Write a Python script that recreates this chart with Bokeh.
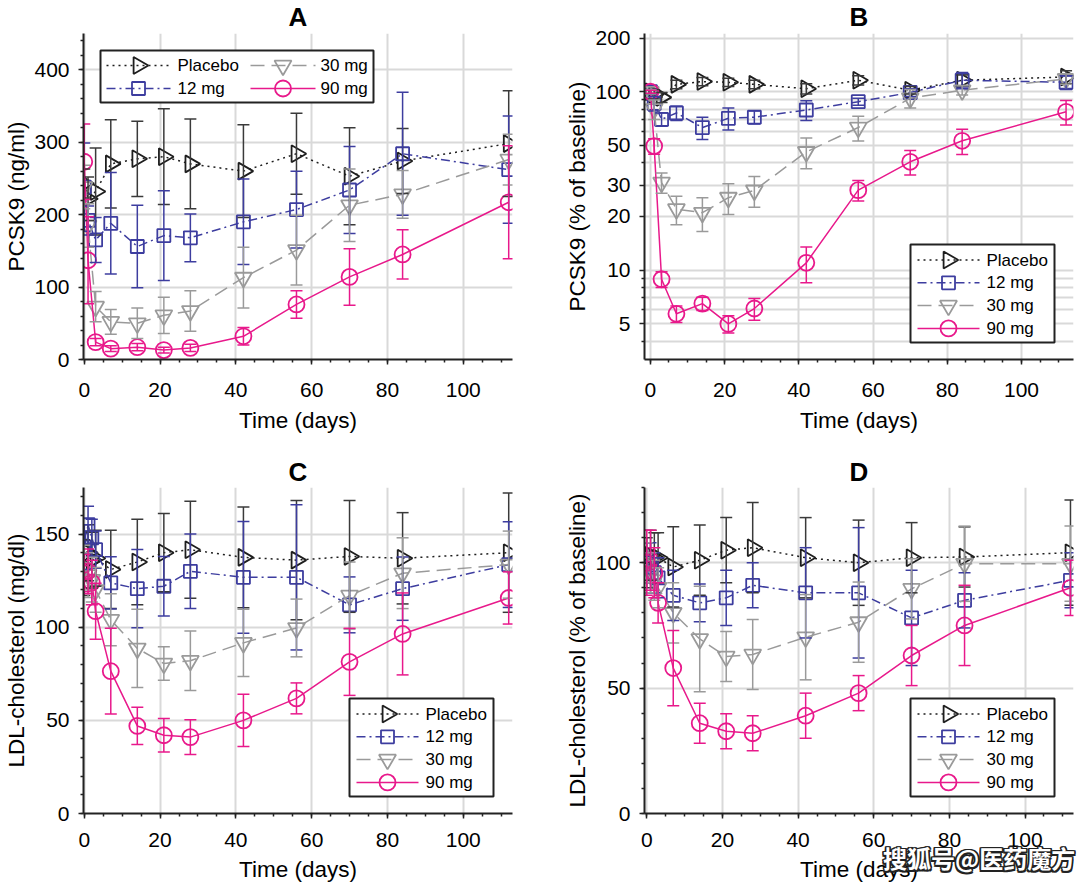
import math
from bokeh.plotting import figure
from bokeh.layouts import gridplot, column
from bokeh.models import (ColumnDataSource, Whisker, TeeHead, FixedTicker, Range1d, Div)
from bokeh.core.properties import value
from bokeh.embed import file_html
from bokeh.resources import INLINE

# ---------------------------------------------------------------- data
series_names = ["Placebo", "12 mg", "30 mg", "90 mg"]

pcsk9_days = [0, 1, 3, 7, 14, 21, 28, 42, 56, 70, 84, 112]
ldl_days = [0, 1, 2, 3, 7, 14, 21, 28, 42, 56, 70, 84, 112]

# A: PCSK9 (ng/ml), mean and SD
a_placebo = [243, 222, 232, 270, 277, 280, 270, 260, 284, 253, 274, 298]
a_placebo_sd = [20, 30, 60, 61, 52, 66, 62, 64, 56, 67, 45, 73]
a_12mg = [238, 192, 165, 188, 156, 171, 168, 190, 207, 234, 284, 262]
a_12mg_sd = [61, 20, 31, 70, 57, 62, 33, 59, 53, 60, 85, 74]
a_30mg = [238, 185, 73, 52, 50, 61, 67, 113, 151, 213, 228, 276]
a_30mg_sd = [30, 30, 21, 17, 21, 25, 28, 42, 48, 50, 33, 35]
a_90mg = [273, 137, 24, 15, 17, 13, 16, 32, 76, 114, 145, 217]
a_90mg_sd = [52, 60, 5, 4, 5, 4, 5, 12, 19, 39, 34, 78]

# B: PCSK9 (% of baseline)
b_placebo = [100, 97, 93, 110, 114, 113, 110, 104, 116, 102, 116, 121]
b_placebo_sd = [3, 6, 6, 6, 6, 6, 6, 7, 7, 5, 8, 10]
b_12mg = [100, 86, 70, 76, 63, 71, 72, 79, 88, 99, 116, 113]
b_12mg_sd = [3, 8, 6, 7, 9, 10, 6, 10, 4, 5, 12, 10]
b_30mg = [100, 80, 31, 22, 21, 25.5, 28, 46, 63, 92, 102, 118]
b_30mg_sd = [3, 10, 4, 4, 4.5, 5, 5.5, 9, 10, 11, 6, 8]
b_90mg = [100, 49.6, 8.9, 5.7, 6.5, 5.0, 6.1, 11.0, 28.1, 40.5, 53.1, 77.2]
b_90mg_sd = [2, 5, 0.9, 0.6, 0.55, 0.55, 0.85, 2.5, 3.7, 6.3, 8.6, 12]

# C: LDL-cholesterol (mg/dl)
c_placebo = [132, 140, 136, 137, 131, 135, 140, 141.6, 137.5, 136, 138, 137, 140]
c_placebo_sd = [15, 15, 15, 15, 21, 23, 21, 26, 27, 32, 30, 24.5, 32]
c_12mg = [143, 155, 148, 141.6, 123.8, 120.7, 122, 130, 126.8, 126.8, 112, 120.7, 133.6]
c_12mg_sd = [12, 10, 10, 10, 14, 21, 16, 20, 30, 39, 15, 17, 23]
c_30mg = [132, 128, 125.5, 120, 104, 88.6, 80.5, 82, 91.6, 99.6, 117, 129, 133.6]
c_30mg_sd = [12, 12, 12, 12, 14, 21, 9, 16, 18, 15.5, 18, 19, 18]
c_90mg = [129, 130, 124, 108.6, 76.4, 47, 42, 41, 50, 61.8, 81.4, 96.4, 115.7]
c_90mg_sd = [10, 12, 12, 15, 23, 10, 9, 9.3, 14, 8.3, 18, 22, 14]

# D: LDL-cholesterol (% of baseline)
d_placebo = [100, 103, 102, 102, 98.3, 101, 105, 106, 102, 100, 102, 102.3, 104]
d_placebo_sd = [10, 10, 10, 10, 16, 14, 13, 18, 16, 17, 14, 12, 21]
d_12mg = [100, 98, 96, 94, 87, 84, 86, 91, 88, 88, 78, 85, 93]
d_12mg_sd = [8, 10, 8, 8, 10, 7.5, 11, 9, 18, 26, 19, 11, 11]
d_30mg = [100, 96, 93, 90, 80, 69.6, 62.6, 63.4, 70.3, 76.3, 89.6, 99.6, 99.6]
d_30mg_sd = [8, 8, 8, 8, 12, 21, 10, 14, 17, 16, 12, 15, 15]
d_90mg = [100, 101, 96, 84, 58, 36, 32.8, 32, 39, 48, 63, 75, 90]
d_90mg_sd = [13, 12, 10, 8, 15, 8, 7, 7, 9, 7, 12, 16, 11]

x_ticks = [0, 20, 40, 60, 80, 100]

# ---------------------------------------------------------------- styles
FONT = "Liberation Sans"
GRID = "#d9d9d9"
FRAME_W, FRAME_H = 429, 326
STYLE = {
    "Placebo": dict(color="#1e1e1e", bar="#3a3a3a", dash="2 4", marker="triangle", angle=-math.pi / 2, size=17),
    "12 mg": dict(color="#3d3d9f", bar="#3d3d9f", dash="9 4 2 4", marker="square", angle=0.0, size=13),
    "30 mg": dict(color="#9a9a9a", bar="#9a9a9a", dash="14 7", marker="inverted_triangle", angle=0.0, size=17),
    "90 mg": dict(color="#e8198b", bar="#e8198b", dash="solid", marker="circle", angle=0.0, size=16),
}

# legend layouts, in pixels from the plot frame's top-left corner
# (box left, box top, box right, box bottom, [(name, line x0, line x1, row y, label x)])
LEGEND_2COL = (17, 17, 290, 69, [
    ("Placebo", 23, 87, 32, 94), ("12 mg", 23, 87, 55, 94),
    ("30 mg", 167, 232, 32, 237), ("90 mg", 167, 232, 55, 237)])
LEGEND_1COL = (266, 211, 410, 309, [
    (n, 273, 335, 226.5 + 22.8 * i, 342) for i, n in enumerate(series_names)])


def add_legend(p, xr, yr, log, layout):
    def dx(px):
        return xr[0] + px / FRAME_W * (xr[1] - xr[0])

    def dy(py):
        if log:
            hi, lo = math.log10(yr[1]), math.log10(yr[0])
            return 10 ** (hi - py / FRAME_H * (hi - lo))
        return yr[1] - py / FRAME_H * (yr[1] - yr[0])

    bl, bt, br, bb, rows = layout
    p.quad(left=[dx(bl)], right=[dx(br)], top=[dy(bt)], bottom=[dy(bb)],
           fill_color="white", line_color="#222222", line_width=2)
    for name, lx0, lx1, ry, tx in rows:
        st = STYLE[name]
        p.segment(x0=[dx(lx0)], x1=[dx(lx1)], y0=[dy(ry)], y1=[dy(ry)],
                  line_color=st["color"], line_width=1.5, line_dash=st["dash"])
        p.scatter(x=[dx((lx0 + lx1) / 2)], y=[dy(ry)], marker=st["marker"],
                  size=st["size"], angle=st["angle"], line_color=st["color"],
                  line_width=1.8, fill_color=None)
        p.text(x=[dx(tx)], y=[dy(ry)], text=[name], text_font=value(FONT),
               text_font_size="17px", text_baseline="middle", text_align="left",
               text_color="black")


def make_panel(title, ylabel, days, values, sds, y_range, y_ticks, y_minor, x_range,
               borders, legend_loc, log=False, grid_ticks=None,
               height=443, title_valign="top", x_standoffs=(18, 8)):
    left, right, top, bottom = borders
    p = figure(width=540, height=height, title=title,
               x_range=Range1d(*x_range), y_range=Range1d(*y_range),
               y_axis_type="log" if log else "linear",
               output_backend="svg", toolbar_location=None,
               min_border_left=left, min_border_right=right,
               min_border_top=top, min_border_bottom=bottom,
               outline_line_color=None, background_fill_color="white")
    p.title.align = "center"
    p.title.vertical_align = title_valign
    p.title.text_font = FONT
    p.title.text_font_size = "26px"
    p.title.text_font_style = "bold"
    p.title.text_color = "black"
    p.title.text_line_height = 0.6
    p.title.standoff = 0

    p.xaxis.ticker = FixedTicker(ticks=x_ticks, minor_ticks=list(range(0, 115, 5)))
    p.yaxis.ticker = FixedTicker(ticks=y_ticks, minor_ticks=y_minor)
    if log:
        p.yaxis.major_label_overrides = {t: str(t) for t in y_ticks}
    p.xaxis.axis_label = "Time (days)"
    p.yaxis.axis_label = ylabel
    for ax in (p.xaxis[0], p.yaxis[0]):
        ax.axis_line_width = 2
        ax.axis_line_color = "#222222"
        ax.major_tick_line_color = "#222222"
        ax.minor_tick_line_color = "#222222"
        ax.major_tick_line_width = 1.5
        ax.minor_tick_line_width = 1.5
        ax.major_tick_in = 0
        ax.major_tick_out = 5
        ax.minor_tick_in = 0
        ax.minor_tick_out = 3
        ax.major_label_text_font = FONT
        ax.major_label_text_font_size = "21px"
        ax.major_label_text_color = "black"
        ax.axis_label_text_font = FONT
        ax.axis_label_text_font_size = "22.5px"
        ax.axis_label_text_font_style = "normal"
        ax.axis_label_text_color = "black"
    p.xaxis.major_label_standoff = x_standoffs[0]
    p.xaxis.axis_label_standoff = x_standoffs[1]
    p.yaxis.major_label_standoff = 9
    p.yaxis.axis_label_standoff = 2

    p.xgrid.ticker = FixedTicker(ticks=x_ticks)
    p.ygrid.ticker = FixedTicker(ticks=grid_ticks if grid_ticks else y_ticks)
    for g in (p.xgrid[0], p.ygrid[0]):
        g.grid_line_color = GRID
        g.grid_line_width = 2

    for name, vals, sd in zip(series_names, values, sds):
        st = STYLE[name]
        src = ColumnDataSource(dict(
            x=days, y=vals,
            lo=[v - s for v, s in zip(vals, sd)],
            hi=[v + s for v, s in zip(vals, sd)],
        ))
        w = Whisker(source=src, base="x", upper="hi", lower="lo",
                    line_color=st["bar"], line_width=1.5, level="glyph",
                    upper_head=TeeHead(size=12, line_color=st["bar"], line_width=1.5),
                    lower_head=TeeHead(size=12, line_color=st["bar"], line_width=1.5))
        p.add_layout(w)
        p.line("x", "y", source=src, line_color=st["color"], line_width=1.5,
               line_dash=st["dash"])
        p.scatter("x", "y", source=src, marker=st["marker"], size=st["size"],
                  angle=st["angle"], line_color=st["color"], line_width=1.8,
                  fill_color=None)

    add_legend(p, x_range, y_range, log, legend_loc)
    return p


pA = make_panel("A", "PCSK9 (ng/ml)", pcsk9_days,
                [a_placebo, a_12mg, a_30mg, a_90mg],
                [a_placebo_sd, a_12mg_sd, a_30mg_sd, a_90mg_sd],
                (0, 450), [0, 100, 200, 300, 400], list(range(0, 451, 20)),
                (-0.2, 113), (83, 28, 33, 84), LEGEND_2COL)

pB = make_panel("B", "PCSK9 (% of baseline)", pcsk9_days,
                [b_placebo, b_12mg, b_30mg, b_90mg],
                [b_placebo_sd, b_12mg_sd, b_30mg_sd, b_90mg_sd],
                (3.16, 212), [5, 10, 20, 30, 50, 100, 200], [4, 6, 7, 8, 9, 40, 60, 70, 80, 90],
                (-1.6, 114), (104, 7, 33, 84), LEGEND_1COL, log=True,
                grid_ticks=[4, 5, 6, 7, 8, 9, 10, 20, 30, 40, 50, 60, 70, 80, 90, 100, 200])

pC = make_panel("C", "LDL-cholesterol (mg/dl)", ldl_days,
                [c_placebo, c_12mg, c_30mg, c_90mg],
                [c_placebo_sd, c_12mg_sd, c_30mg_sd, c_90mg_sd],
                (0, 175), [0, 50, 100, 150], list(range(0, 176, 10)),
                (-0.2, 113), (83, 28, 44, 74), LEGEND_1COL, height=444,
                title_valign="middle", x_standoffs=(14, 7))

pD = make_panel("D", "LDL-cholesterol (% of baseline)", ldl_days,
                [d_placebo, d_12mg, d_30mg, d_90mg],
                [d_placebo_sd, d_12mg_sd, d_30mg_sd, d_90mg_sd],
                (0, 130), [0, 50, 100], list(range(0, 131, 10)),
                (-0.6, 112.8), (104, 7, 44, 74), LEGEND_1COL, height=444,
                title_valign="middle", x_standoffs=(14, 7))

grid = gridplot([[pA, pB], [pC, pD]], toolbar_location=None)

# source credit overlaid at the lower right corner
credit = Div(text="搜狐号@医药魔方", width=196, height=34, margin=(-41, 0, 0, 883),
             styles={"font-family": "'Noto Sans CJK SC'", "font-size": "24px",
                     "font-weight": "bold", "color": "white", "white-space": "nowrap",
                     "line-height": "1",
                     "text-shadow": "-1.5px -1.5px 0 #222, 1.5px -1.5px 0 #222, "
                                    "-1.5px 1.5px 0 #222, 1.5px 1.5px 0 #222, "
                                    "0 1.5px 0 #222, 0 -1.5px 0 #222, "
                                    "1.5px 0 0 #222, -1.5px 0 0 #222"})

page = column(grid, credit, spacing=0)
open("out.html", "w").write(file_html(page, INLINE))
